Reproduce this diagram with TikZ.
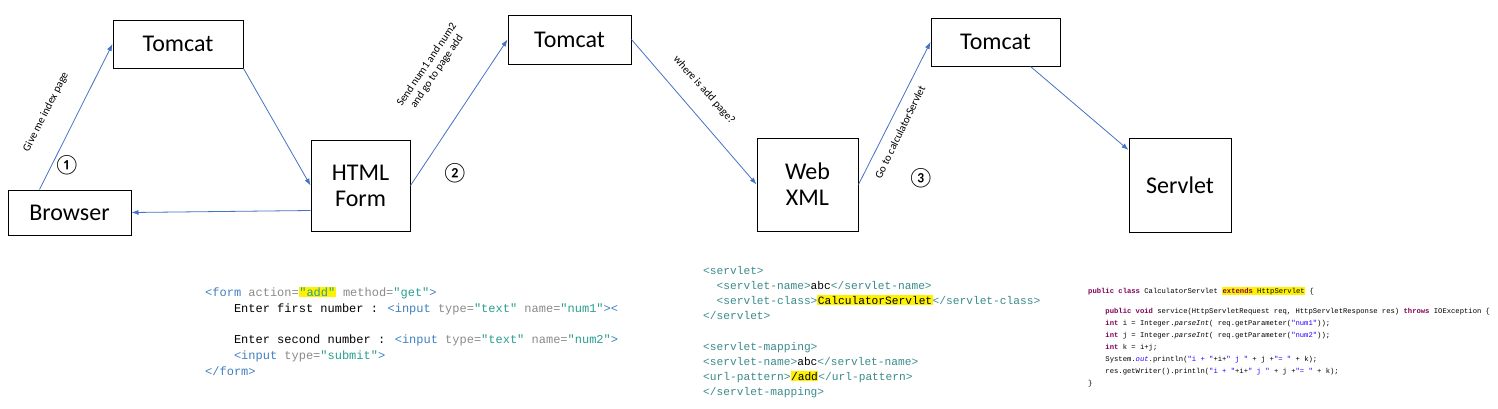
\documentclass[tikz,border=0pt]{standalone}
\usepackage{fontspec}
\setmainfont{Carlito}
\newfontfamily\codefont{Liberation Mono}
\usetikzlibrary{arrows.meta}
\definecolor{arr}{HTML}{4472C4}
\definecolor{tg}{HTML}{3F7FBF}
\definecolor{at}{HTML}{8A8A8A}
\definecolor{vl}{HTML}{2A9D8F}
\definecolor{xm}{HTML}{3A8A8A}
\definecolor{kw}{HTML}{7F0055}
\definecolor{st}{HTML}{2A00FF}
\newcommand{\hlite}[1]{{\setlength{\fboxsep}{0.5pt}\colorbox{yellow}{#1}}}
\begin{document}
\begin{tikzpicture}[x=1pt,y=-1pt,
  box/.style={draw,line width=1pt,inner sep=0pt,font=\fontsize{24}{26}\selectfont,align=center},
  con/.style={draw=arr,line width=0.8pt,-{Latex[length=7pt,width=5pt]}},
  lab/.style={font=\fontsize{11}{12}\selectfont,align=center,inner sep=1pt},
  circ/.style={font=\fontsize{20}{20}\selectfont},
  fc/.style={anchor=base west,inner sep=0pt,font=\codefont\fontsize{12}{14}\selectfont},
  xc/.style={anchor=base west,inner sep=0pt,font=\codefont\fontsize{11.2}{13}\selectfont,text=xm},
  jc/.style={anchor=base west,inner sep=0pt,font=\codefont\fontsize{7.2}{9}\selectfont}]
\useasboundingbox (0,0) rectangle (1498,408);
\node[box,minimum width=130pt,minimum height=48pt] (t1) at (178,44) {Tomcat};
\node[box,minimum width=123pt,minimum height=45pt] (br) at (69.5,212.5) {Browser};
\node[box,minimum width=99pt,minimum height=91pt] (hf) at (360.5,185.5) {HTML\\Form};
\node[box,minimum width=123pt,minimum height=49pt] (t2) at (569.5,39.5) {Tomcat};
\node[box,minimum width=101pt,minimum height=93pt] (wx) at (807.5,184.5) {Web\\XML};
\node[box,minimum width=129pt,minimum height=48pt] (t3) at (995.5,42) {Tomcat};
\node[box,minimum width=102pt,minimum height=94pt] (sv) at (1180,185) {Servlet};

\draw[con] ([xshift=32]br.north west) -- (t1.west);
\draw[con] (t1.south east) -- (hf.west);
\draw[con] ([yshift=-25]hf.west) -- (br.east);
\draw[con] (hf.east) -- (t2.west);
\draw[con] (t2.east) -- (wx.west);
\draw[con] (wx.east) -- (t3.west);
\draw[con] ([xshift=-30]t3.south east) -- ([yshift=35]sv.west);

\node[lab,rotate=63] (l1) at (46,112) {Give me index page};
\node[lab,rotate=56] (l2) at (432,68) {Send num1 and num2\\and go to page add};
\node[lab,rotate=-48] (l3) at (704,90) {where is add page?};
\node[lab,rotate=64] (l4) at (900,132) {Go to calculatorServlet};
\node[circ] (c1) at (67,165) {①};
\node[circ] (c2) at (455,173) {②};
\node[circ] (c3) at (921,178) {③};

\node[fc] (f1) at (205,296) {\textcolor{tg}{<form} \textcolor{at}{action=}\hlite{\textcolor{vl}{"add"}} \textcolor{at}{method=}\textcolor{vl}{"get"}\textcolor{tg}{>}};
\node[fc] (f2) at (205,312) {\ \ \ \ Enter first number : \textcolor{tg}{<input} \textcolor{at}{type=}\textcolor{vl}{"text"} \textcolor{at}{name=}\textcolor{vl}{"num1"}\textcolor{tg}{><}};
\node[fc] (f3) at (205,343) {\ \ \ \ Enter second number : \textcolor{tg}{<input} \textcolor{at}{type=}\textcolor{vl}{"text"} \textcolor{at}{name=}\textcolor{vl}{"num2"}\textcolor{tg}{>}};
\node[fc] (f4) at (205,359) {\ \ \ \ \textcolor{tg}{<input} \textcolor{at}{type=}\textcolor{vl}{"submit"}\textcolor{tg}{>}};
\node[fc] (f5) at (205,375) {\textcolor{tg}{</form>}};

\node[xc] (x1) at (703,274) {<servlet>};
\node[xc] (x2) at (703,289) {\ \ <servlet-name>\textcolor{black}{abc}</servlet-name>};
\node[xc] (x3) at (703,304) {\ \ <servlet-class>\hlite{\textcolor{black}{CalculatorServlet}}</servlet-class>};
\node[xc] (x4) at (703,319) {</servlet>};
\node[xc] (x5) at (703,350) {<servlet-mapping>};
\node[xc] (x6) at (703,365) {<servlet-name>\textcolor{black}{abc}</servlet-name>};
\node[xc] (x7) at (703,380) {<url-pattern>\hlite{\textcolor{black}{/add}}</url-pattern>};
\node[xc] (x8) at (703,395) {</servlet-mapping>};

\node[jc] (j1) at (1088,293) {\textcolor{kw}{\bfseries public class} CalculatorServlet \hlite{\textcolor{kw}{\bfseries extends} HttpServlet} \{};
\node[jc] (j2) at (1088,313) {\ \ \ \ \textcolor{kw}{\bfseries public void} service(HttpServletRequest req, HttpServletResponse res) \textcolor{kw}{\bfseries throws} IOException \{};
\node[jc] (j3) at (1088,325) {\ \ \ \ \textcolor{kw}{\bfseries int} i = Integer.\textit{parseInt}( req.getParameter(\textcolor{st}{"num1"}));};
\node[jc] (j4) at (1088,337) {\ \ \ \ \textcolor{kw}{\bfseries int} j = Integer.\textit{parseInt}( req.getParameter(\textcolor{st}{"num2"}));};
\node[jc] (j5) at (1088,349) {\ \ \ \ \textcolor{kw}{\bfseries int} k = i+j;};
\node[jc] (j6) at (1088,361) {\ \ \ \ System.\textcolor{st}{\itshape out}.println(\textcolor{st}{"i + "}+i+\textcolor{st}{" j "} + j +\textcolor{st}{"= "} + k);};
\node[jc] (j7) at (1088,373) {\ \ \ \ res.getWriter().println(\textcolor{st}{"i + "}+i+\textcolor{st}{" j "} + j +\textcolor{st}{"= "} + k);};
\node[jc] (j8) at (1088,385) {\}};
\end{tikzpicture}
\end{document}
